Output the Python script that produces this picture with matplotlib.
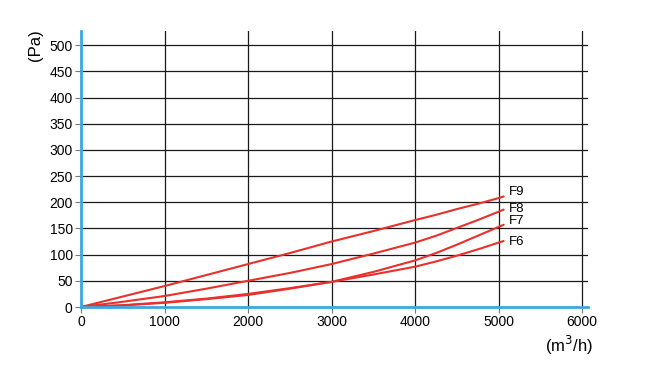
import matplotlib
matplotlib.use("Agg")
import matplotlib.pyplot as plt

plt.rcParams["font.family"] = ["Liberation Sans", "DejaVu Sans"]

# airflow (m3/h) and pressure drop (Pa)
flow = [0, 500, 1000, 1500, 2000, 2500, 3000, 3500, 4000, 4250, 4500, 4750, 5000, 5060]
f9 = [0, 20, 40, 61, 82, 103, 125, 145, 166, 176, 187, 197, 208, 211]
f8 = [0, 10, 21, 35, 50, 65, 82, 102, 123, 136, 151, 166, 182, 186]
f7 = [0, 3, 8, 15, 23, 35, 48, 67, 89, 103, 119, 136, 153, 157]
f6 = [0, 3.5, 9, 16, 25, 36, 48, 62, 77, 87, 98, 110, 123, 126]
series = {"F9": f9, "F8": f8, "F7": f7, "F6": f6}
label_y = {"F9": 219, "F8": 188, "F7": 164, "F6": 125}

xticks = [0, 1000, 2000, 3000, 4000, 5000, 6000]
yticks = [0, 50, 100, 150, 200, 250, 300, 350, 400, 450, 500]

red = "#e8302c"
blue = "#3aa8de"

fig = plt.figure(figsize=(6.5, 3.75), dpi=100)
ax = fig.add_axes([0.1246, 0.1813, 0.78, 0.7360])

for name, vals in series.items():
    ax.plot(flow, vals, color=red, lw=1.5, solid_capstyle="round",
            solid_joinstyle="round", zorder=3)
    ax.text(5125, label_y[name], name, fontsize=9.5, va="center", ha="left")

ax.set_xlim(0, 6070)
ax.set_ylim(0, 527)
ax.set_xticks(xticks)
ax.set_yticks(yticks)
ax.tick_params(labelsize=10, length=4, width=0.8, color="#777777", pad=2)

# grid: vertical lines run to the top, horizontal ones across
for x in xticks[1:]:
    ax.axvline(x, color="#1a1a1a", lw=0.9, zorder=1)
for y in yticks[1:]:
    ax.axhline(y, color="#1a1a1a", lw=0.9, zorder=1)

for s in ["top", "right"]:
    ax.spines[s].set_visible(False)
for s in ["left", "bottom"]:
    ax.spines[s].set_color(blue)
    ax.spines[s].set_linewidth(2)
    ax.spines[s].set_zorder(4)

fig.text(0.055, 0.88, "(Pa)", rotation=90, fontsize=12, ha="center", va="center")
fig.text(0.875, 0.078, "(m$^3$/h)", fontsize=12, ha="center", va="center")

fig.savefig("out.png", dpi=100)
